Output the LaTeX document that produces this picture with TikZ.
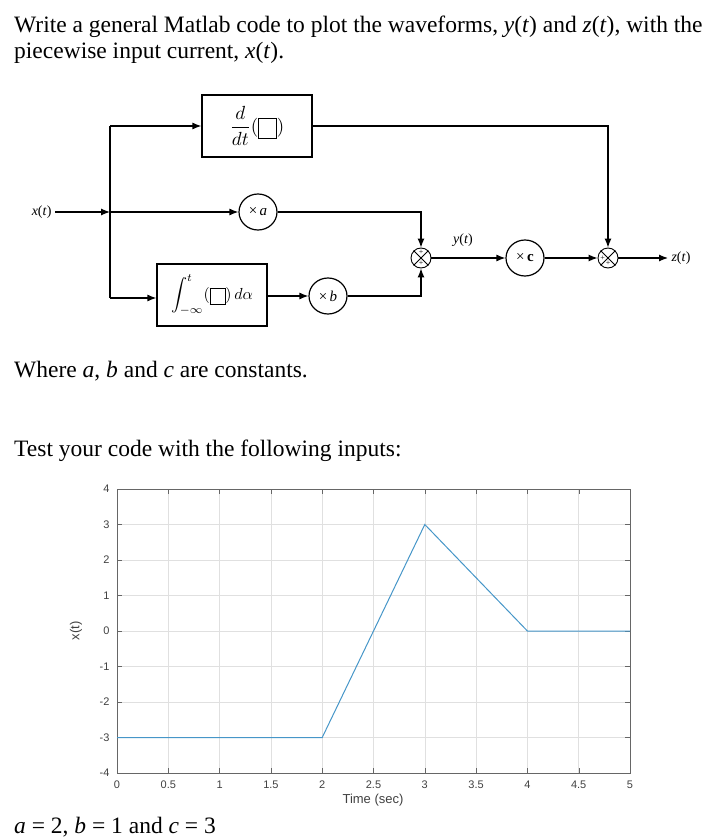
\documentclass[tikz,border=0pt]{standalone}
\usepackage{fontspec}
\usepackage{graphicx}
\setmainfont{Liberation Serif}
\newfontfamily\axfont{Liberation Sans}
\usetikzlibrary{arrows.meta,shapes.geometric}
\newcommand{\dbox}{\fbox{\rule{0pt}{4pt}\hspace{3pt}}}
\begin{document}
\begin{tikzpicture}[x=1pt,y=-1pt,
  txt/.style={anchor=west,font=\fontsize{23.5}{26}\selectfont,inner sep=0},
  blk/.style={draw,line width=1.2pt,minimum width=110pt,minimum height=62pt},
  mul/.style={draw,line width=1.2pt,ellipse,minimum width=38pt,minimum height=36pt,inner sep=0,font=\fontsize{15}{16}\selectfont},
  sumc/.style={draw,circle,line width=0.9pt,minimum size=20pt,inner sep=0},
  wire/.style={line width=1.2pt},
  arr/.style={wire,-{Latex[length=9pt,width=7pt]}},
  lab/.style={font=\fontsize{14}{16}\selectfont},
  pl/.style={font=\fontsize{8}{8}\selectfont,inner sep=0},
  tick/.style={font=\axfont\fontsize{11}{12}\selectfont,text=black!75}]
\useasboundingbox (0,0) rectangle (727,837);
\node[txt] (t1) at (14,27) {Write a general Matlab code to plot the waveforms, \textit{y}(\textit{t}) and \textit{z}(\textit{t}), with the};
\node[txt] (t2) at (14,53) {piecewise input current, \textit{x}(\textit{t}).};
% blocks
\node[blk] (dd) at (257,126) {\scalebox{1.9}{$\displaystyle\frac{d}{dt}(\dbox)$}};
\node[blk] (in) at (212,295) {\scalebox{1.6}{$\displaystyle\int_{-\infty}^{t}(\dbox)\,d\alpha$}};
\node[mul] (ma) at (258,212) {×\,\textit{a}};
\node[mul] (mb) at (328,296) {×\,\textit{b}};
\node[mul] (mc) at (525,258) {×\,\textbf{c}};
\node[sumc] (s1) at (421,258) {};
\node[sumc] (s2) at (608,258) {};
\foreach \s in {s1,s2}{
  \draw[line width=0.8pt] (\s.north east)--(\s.south west) (\s.north west)--(\s.south east);}
\node[pl] at ([yshift=-5.5pt]s1.center) {+};
\node[pl] at ([yshift=5.5pt]s1.center) {+};
\node[pl] at ([yshift=-5.5pt]s2.center) {+};
\node[pl] at ([xshift=-5.5pt]s2.center) {+};
\node[lab,anchor=east] (xl) at (55,212) {\textit{x}(\textit{t})};
\node[lab] (yl) at (463,240) {\textit{y}(\textit{t})};
\node[lab,anchor=west] (zl) at (668,258) {\textit{z}(\textit{t})};
\coordinate (br) at (110,212);
\draw[arr] (xl.east) -- (br);
\draw[arr] (br) -- (ma.west);
\draw[wire] (110,126) -- (110,298);
\draw[arr] (110,126) -- (dd.west);
\draw[arr] (110,298) -- (in.west|-110,298);
\draw[arr] (in.east|-mb) -- (mb.west);
\draw[arr] (ma.east) -| (s1.north);
\draw[arr] (mb.east) -| (s1.south);
\draw[arr] (dd.east) -| (s2.north);
\draw[arr] (s1.east) -- (mc.west);
\draw[arr] (mc.east) -- (s2.west);
\draw[arr] (s2.east) -- (zl.west);
\node[txt] (t3) at (14,371) {Where \textit{a}, \textit{b} and \textit{c} are constants.};
\node[txt] (t4) at (14,451) {Test your code with the following inputs:};
% plot
\foreach \i/\l in {0/0,0.5/0.5,1/1,1.5/1.5,2/2,2.5/2.5,3/3,3.5/3.5,4/4,4.5/4.5,5/5}{\draw[black!12,line width=0.5pt] ({117+\i*102.6},489)--({117+\i*102.6},773);
  \draw[black!60] ({117+\i*102.6},773)--++(0,-5) ({117+\i*102.6},489)--++(0,5);
  \node[tick] at ({117+\i*102.6},785) {\l};}
\foreach \j in {-4,...,4}{\draw[black!12,line width=0.5pt] (117,{631-\j*35.5})--(630,{631-\j*35.5});
  \draw[black!60] (117,{631-\j*35.5})--++(5,0) (630,{631-\j*35.5})--++(-5,0);
  \node[tick,anchor=east] at (113,{631-\j*35.5}) {\j};}
\draw[black!60,line width=0.7pt] (117,489) rectangle (630,773);
\draw[color={rgb,255:red,70;green,150;blue,200},line width=1pt]
  (117,{631+3*35.5}) -- ({117+2*102.6},{631+3*35.5}) -- ({117+3*102.6},{631-3*35.5})
  -- ({117+4*102.6},631) -- (630,631);
\node[tick,font=\axfont\fontsize{13}{14}\selectfont,rotate=90] (yax) at (76,631) {x(t)};
\node[tick,font=\axfont\fontsize{13}{14}\selectfont] (xax) at (373,800) {Time (sec)};
\node[txt] (t5) at (14,827) {\textit{a} = 2, \textit{b} = 1 and \textit{c} = 3};
\end{tikzpicture}
\end{document}
